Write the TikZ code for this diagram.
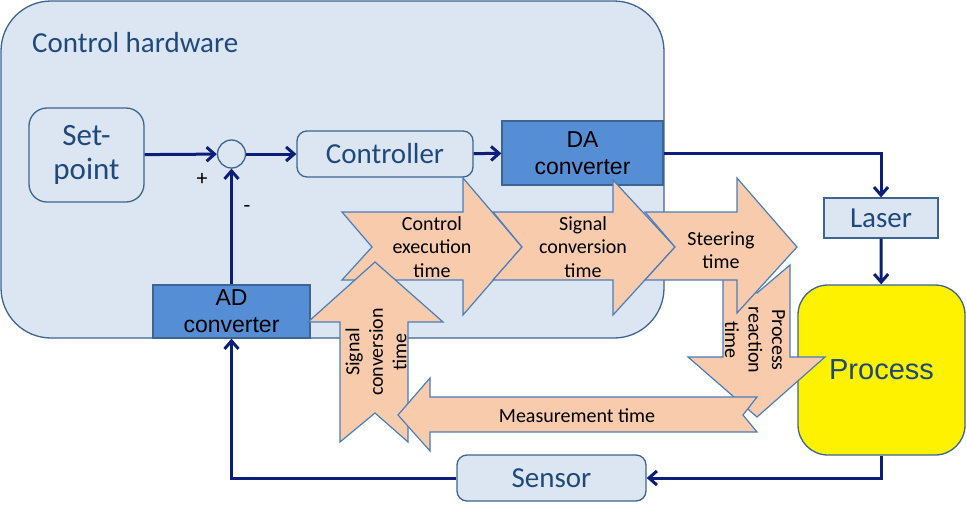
\documentclass[tikz,border=0pt]{standalone}
\usepackage{fontspec}
\setmainfont{Carlito}
\newfontfamily\arialfont{Liberation Sans}
\usepackage{tikz}
\usetikzlibrary{arrows.meta}
\definecolor{hwfill}{RGB}{220,230,242}
\definecolor{hwline}{RGB}{62,100,145}
\definecolor{hwtext}{RGB}{31,73,125}
\definecolor{convfill}{RGB}{85,142,213}
\definecolor{timefill}{RGB}{248,203,173}
\definecolor{timeline}{RGB}{74,126,187}
\definecolor{wire}{RGB}{12,30,122}

\begin{document}
\begin{tikzpicture}[%
            x=1pt, y=-1pt,
            block/.style={draw=hwline, line width=1.3pt, fill=hwfill, text=hwtext,
                font=\fontsize{29}{34}\selectfont, align=center, inner sep=0pt},
            conv/.style={draw=hwline, line width=1.3pt, fill=convfill,
                font=\arialfont\fontsize{23}{27}\selectfont, align=center, inner sep=0pt},
            timearrow/.style={draw=timeline, line width=1.2pt, fill=timefill, line join=miter},
            timetext/.style={font=\fontsize{20}{23.5}\selectfont, align=center, inner sep=0pt},
            link/.style={draw=wire, line width=3pt, -{Straight Barb[length=8pt,width=14pt]}},
        ]
        \useasboundingbox (0,0) rectangle (967,504);

        \node[block, rounded corners=50pt, minimum width=663pt, minimum height=337pt] (hw) at (332.5,169.5) {};
        \node[text=hwtext, font=\fontsize{29}{34}\selectfont, anchor=base west, inner sep=0pt] (hwlabel) at (32,52) {Control hardware};

        \node[block, rounded corners=18pt, minimum width=115pt, minimum height=94pt,
            font=\fontsize{31}{34}\selectfont] (setpoint) at (86.5,155) {Set-\\point};
        \node[block, circle, minimum size=28pt] (sum) at (231.5,154) {};
        \node[block, rounded corners=10pt, minimum width=176pt, minimum height=46pt] (ctrl) at (385,154) {Controller};
        \node[conv, minimum width=161pt, minimum height=64pt] (da) at (582.5,153) {DA\\converter};
        \node[conv, minimum width=157pt, minimum height=53pt] (ad) at (231.5,311.5) {AD\\converter};
        \node[font=\fontsize{22}{24}\selectfont] (plus) at (202,179) {+};
        \node[font=\fontsize{22}{24}\selectfont] (minus) at (247,209) {-};

        \node[block, minimum width=114pt, minimum height=40pt] (laser) at (881,218) {Laser};
        \node[block, fill=yellow, rounded corners=30pt, minimum width=167pt, minimum height=170pt,
            font=\arialfont\fontsize{29}{34}\selectfont] (process) at (881.5,370) {Process};
        \node[block, rounded corners=10pt, minimum width=189pt, minimum height=46pt] (sensor) at (551.5,478) {Sensor};

        \draw[timearrow] (723,265) -- (757,293) -- (790,265) -- (790,357) -- (825,357) -- (757,417)
            -- (688,357) -- (723,357) -- cycle;
        \draw[timearrow] (342,212) -- (463,212) -- (463,178) -- (522,247) -- (463,315) -- (463,280)
            -- (342,280) -- (372,247) -- cycle;
        \draw[timearrow] (493,212) -- (613,212) -- (613,180) -- (675,247) -- (613,315) -- (613,280)
            -- (493,280) -- (522,247) -- cycle;
        \draw[timearrow] (645,212) -- (737,212) -- (737,178) -- (797,247) -- (737,313) -- (737,280)
            -- (645,280) -- (675,247) -- cycle;
        \draw[timearrow] (340,442) -- (375,413) -- (408,442) -- (408,322) -- (443,322) -- (375,262)
            -- (308,322) -- (340,322) -- cycle;
        \draw[timearrow] (757,397) -- (430,397) -- (430,378) -- (398,415) -- (430,451) -- (430,432)
            -- (757,432) -- (743,415) -- cycle;

        \node[timetext] (exec) at (432,247) {Control\\execution\\time};
        \node[timetext] (daconv) at (583,247) {Signal\\conversion\\time};
        \node[timetext] (steer) at (721,250) {Steering\\time};
        \node[timetext, rotate=-90] (react) at (755,340) {Process\\reaction\\time};
        \node[timetext, rotate=90] (adconv) at (376,352) {Signal\\conversion\\time};
        \node[timetext] (measure) at (577,416) {Measurement time};

        \draw[link] (setpoint) -- (sum);
        \draw[link] (sum) -- (ctrl);
        \draw[link] (ctrl) -- (da);
        \draw[link] (da.east) -| (laser.north);
        \draw[link] (laser) -- (process);
        \draw[link] (process.south) |- (sensor.east);
        \draw[link] (sensor.west) -| (ad.south);
        \draw[link] (ad) -- (sum);
    \end{tikzpicture}
\end{document}
